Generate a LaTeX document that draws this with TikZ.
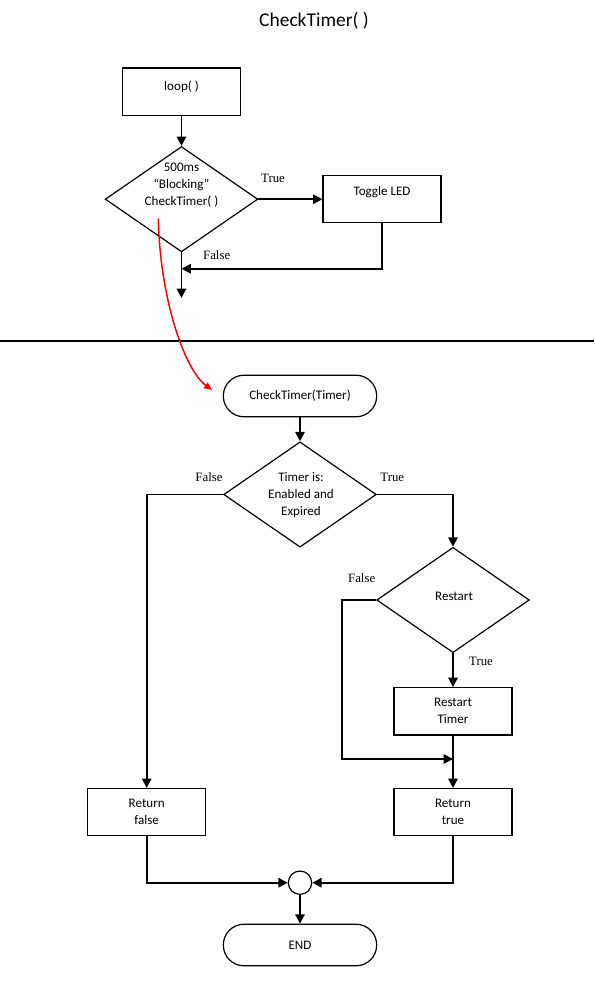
\documentclass[tikz,border=0pt]{standalone}
\usepackage{fontspec}
\setmainfont{Carlito}
\newfontfamily\serifl{Liberation Serif}
\usetikzlibrary{arrows.meta,shapes.geometric}
\begin{document}
\begin{tikzpicture}[x=0.75pt,y=-0.75pt,
  every node/.style={font=\fontsize{9.8}{12.75}\selectfont},
  box/.style={draw,line width=0.9pt,minimum width=88.5pt,minimum height=35.5pt,inner sep=0pt,align=center},
  dec/.style={draw,diamond,line width=0.9pt,minimum width=114.5pt,minimum height=79pt,inner sep=0pt},
  term/.style={draw,line width=0.9pt,rounded corners=15.5pt,minimum width=115pt,minimum height=31.2pt,inner sep=0pt},
  txt/.style={align=center,inner sep=0pt},
  lbl/.style={font=\serifl\fontsize{9.6}{11}\selectfont,inner sep=0pt},
  conn/.style={line width=1.4pt,-{Triangle[length=7pt,width=7pt]}},
  plain/.style={line width=1.4pt},
  ]
\useasboundingbox (0,0) rectangle (594,1000);

% title
\node[font=\fontsize{14.6}{17}\selectfont] (title) at (314,21) {CheckTimer( )};

% upper flowchart
\node[box] (loop) at (181.5,91.7) {};
\node[txt] (loopT) at (181.5,86.7) {loop( )};
\node[dec] (d1) at (181.5,199.2) {};
\node[txt] (d1T) at (181.5,184.7) {500ms\\“Blocking”\\CheckTimer( )};
\node[box] (toggle) at (382,199.2) {};
\node[txt] (toggleT) at (382,191.7) {Toggle LED};
\node[lbl] (t1) at (273,178) {True};
\node[lbl] (f1) at (216.7,255) {False};
\coordinate (m1) at (181.5,268.7);
\coordinate (o1) at (181.5,298);

\draw[conn] (loop) -- (d1);
\draw[conn] (d1.east) -- (toggle.west);
\draw[conn] (toggle.south) |- (m1);
\draw[conn] (d1.south) -- (o1);

% separator
\coordinate (sepL) at (0,341);
\coordinate (sepR) at (594,341);
\draw[line width=1pt] (sepL) -- (sepR);

% lower flowchart
\node[term] (ct) at (300,396) {CheckTimer(Timer)};
\node[dec] (d2) at (300,494.5) {};
\node[txt] (d2T) at (301,495) {Timer is:\\Enabled and\\Expired};
\node[lbl] (f2) at (209,477.3) {False};
\node[lbl] (t2) at (392.3,477) {True};
\node[dec] (d3) at (453,600) {};
\node[txt] (d3T) at (454,596.7) {Restart};
\node[lbl] (f3) at (361.7,578.3) {False};
\node[lbl] (t3) at (481,661) {True};
\node[box] (rt) at (453,711.3) {Restart\\Timer};
\node[box] (rf) at (146.7,812.2) {Return\\false};
\node[box] (rtr) at (453,812.2) {Return\\true};
\node[circle,draw,line width=0.9pt,minimum size=17.5pt,inner sep=0pt] (c) at (300,882.7) {};
\node[term] (end) at (300,945) {END};

\coordinate (k3) at (342.3,759);
\coordinate (m3) at (453,759);

\draw[conn] (ct) -- (d2);
\draw[conn] (d2.west) -| (rf.north);
\draw[conn] (d2.east) -| (d3.north);
\draw[conn] (d3.south) -- (rt.north);
\draw[conn] (d3.west) -| (k3) -- (m3);
\draw[conn] (rt.south) -- (rtr.north);
\draw[conn] (rf.south) |- (c.west);
\draw[conn] (rtr.south) |- (c.east);
\draw[conn] (c.south) -- (end.north);

% red link
\coordinate (rs) at (158.3,218.3);
\coordinate (re) at (212,390);
\draw[red,line width=1.1pt,-{Triangle[length=6pt,width=5pt]}] (rs) .. controls (160,300) and (185,370) .. (re);
\end{tikzpicture}
\end{document}
